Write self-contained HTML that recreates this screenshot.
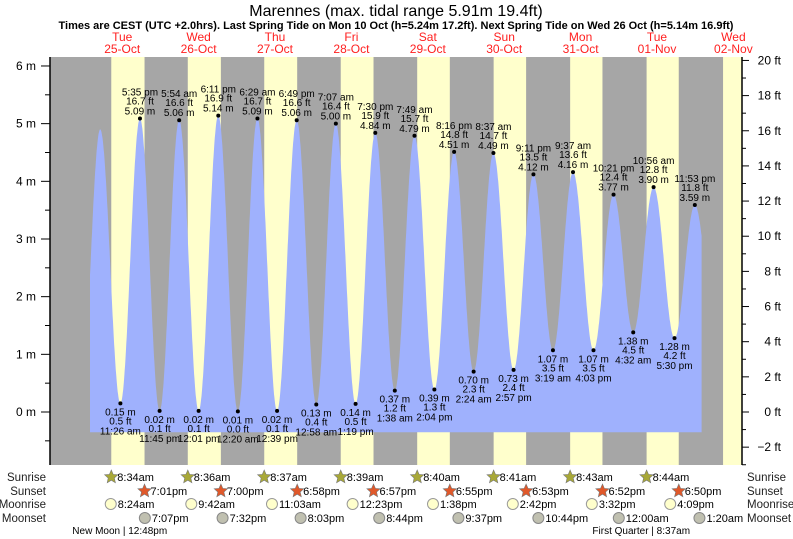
<!DOCTYPE html>
<html><head><meta charset="utf-8"><style>
body{margin:0;background:#fff;}
svg{display:block;font-family:"Liberation Sans",Arial,sans-serif;}
</style></head><body>
<svg id="chart" width="793" height="539" viewBox="0 0 793 539" xmlns="http://www.w3.org/2000/svg">
<text x="396" y="16" font-size="16" text-anchor="middle" fill="#000">Marennes (max. tidal range 5.91m 19.4ft)</text>
<text x="396" y="29" font-size="11" font-weight="bold" text-anchor="middle" fill="#000">Times are CEST (UTC +2.0hrs). Last Spring Tide on Mon 10 Oct (h=5.24m 17.2ft). Next Spring Tide on Wed 26 Oct (h=5.14m 16.9ft)</text>
<g id="plot"></g>
</svg>
<script>
// ---- data ----
const dayNames = ["Tue","Wed","Thu","Fri","Sat","Sun","Mon","Tue","Wed"];
const dayDates = ["25-Oct","26-Oct","27-Oct","28-Oct","29-Oct","30-Oct","31-Oct","01-Nov","02-Nov"];
const sunriseTimes = ["8:34am","8:36am","8:37am","8:39am","8:40am","8:41am","8:43am","8:44am","8:45am"];
const sunsetTimes = ["7:01pm","7:00pm","6:58pm","6:57pm","6:55pm","6:53pm","6:52pm","6:50pm","6:49pm"];
const moonriseDays = [0,1,2,3,4,5,6,7];
const moonriseTimes = ["8:24am","9:42am","11:03am","12:23pm","1:38pm","2:42pm","3:32pm","4:09pm"];
const moonsetDays = [0,1,2,3,4,5,7,8];
const moonsetTimes = ["7:07pm","7:32pm","8:03pm","8:44pm","9:37pm","10:44pm","12:00am","1:20am"];
const phaseDays = [0,7];
const phaseTimes = ["12:48pm","8:37am"];
const phaseNames = ["New Moon","First Quarter"];
const tideDays = [-1,0,0,0,0,1,1,1,2,2,2,2,3,3,3,3,4,4,4,4,5,5,5,5,6,6,6,6,7,7,7,7,8];
const tideTimes = ["11:00 pm","5:05 am","11:26 am","5:35 pm","11:45 pm","5:54 am","12:01 pm","6:11 pm","12:20 am","6:29 am","12:39 pm","6:49 pm","12:58 am","7:07 am","1:19 pm","7:30 pm","1:38 am","7:49 am","2:04 pm","8:16 pm","2:24 am","8:37 am","2:57 pm","9:11 pm","3:19 am","9:37 am","4:03 pm","10:21 pm","4:32 am","10:56 am","5:30 pm","11:53 pm","6:10 am"];
const tideM = [0.20,4.90,0.15,5.09,0.02,5.06,0.02,5.14,0.01,5.09,0.02,5.06,0.13,5.00,0.14,4.84,0.37,4.79,0.39,4.51,0.70,4.49,0.73,4.12,1.07,4.16,1.07,3.77,1.38,3.90,1.28,3.59,1.50];
const tideFt = [0.7,16.1,0.5,16.7,0.1,16.6,0.1,16.9,0.0,16.7,0.1,16.6,0.4,16.4,0.5,15.9,1.2,15.7,1.3,14.8,2.3,14.7,2.4,13.5,3.5,13.6,3.5,12.4,4.5,12.8,4.2,11.8,4.9];
const tideShown = [0,0,1,1,1,1,1,1,1,1,1,1,1,1,1,1,1,1,1,1,1,1,1,1,1,1,1,1,1,1,1,1,0];
const yTicksM = [0,1,2,3,4,5,6];
const yTicksFt = [-2,0,2,4,6,8,10,12,14,16,18,20];
const dataStartHour = 1.9, dataEndHour = 194;

// ---- scales ----
const PL=50, PR=742, PT=57, PB=465;
const X0=84, DAYW=76.4;
const xH = h => X0 + h*DAYW/24;
const yM = m => 412 - m*57.67;
const yFt = f => yM(f*0.3048);
function parseT(s){const m=s.replace(/\s/g,'').match(/(\d+):(\d+)(am|pm)/);let h=+m[1]%12;if(m[3]==='pm')h+=12;return h+(+m[2])/60;}
const NS="http://www.w3.org/2000/svg";
const svg=document.getElementById('plot');
function el(tag,attrs,parent){const e=document.createElementNS(NS,tag);for(const k in attrs)e.setAttribute(k,attrs[k]);(parent||svg).appendChild(e);return e;}
function txt(x,y,s,size,anchor,fill,parent){const t=el('text',{x:x,y:y,'font-size':size,'text-anchor':anchor||'middle',fill:fill||'#000'},parent);t.textContent=s;return t;}

let r=el('rect',{x:PL,y:PT,width:PR-PL,height:PB-PT,fill:'#a6a6a6'});


for(let d=0;d<dayNames.length;d++){
  const a=xH(d*24+parseT(sunriseTimes[d])), b=Math.min(PR,xH(d*24+parseT(sunsetTimes[d])));
  if(a>=PR) continue;
  const band=el('rect',{x:a,y:PT,width:b-a,height:PB-PT,fill:'#ffffcc'});
  
  
}
for(let d=0;d<dayNames.length;d++){
  const cx=xH(d*24+12);
  const t1=txt(cx,41,dayNames[d],12,'middle','#ff2020');
  
  
  const t2=txt(cx,53,dayDates[d],12,'middle','#ff2020');
  
  
}
const tH=tideDays.map((d,i)=>d*24+parseT(tideTimes[i]));
function level(h){for(let i=0;i<tH.length-1;i++){if(h>=tH[i]&&h<=tH[i+1]){const f=(h-tH[i])/(tH[i+1]-tH[i]);return tideM[i]+(tideM[i+1]-tideM[i])*(1-Math.cos(Math.PI*f))/2;}}return tideM[tideM.length-1];}
const base=-0.35;
let dpath='M'+xH(dataStartHour).toFixed(1)+','+yM(base).toFixed(1);
for(let h=dataStartHour;h<=dataEndHour;h+=0.1){dpath+=' L'+xH(h).toFixed(1)+','+yM(level(h)).toFixed(1);}
dpath+=' L'+xH(dataEndHour).toFixed(1)+','+yM(level(dataEndHour)).toFixed(1)+' L'+xH(dataEndHour).toFixed(1)+','+yM(base).toFixed(1)+' Z';
const area=el('path',{d:dpath,fill:'#9fb1fd'});


for(let i=0;i<tH.length;i++){
  if(!tideShown[i]) continue;
  const x=xH(tH[i]), y=yM(tideM[i]);
  const isHigh = tideM[i] > (tideM[i-1]||0);
  const g=el('g',{});
  
  
  el('circle',{cx:x,cy:y,r:2,fill:'#000'},g);
  const ft=tideFt[i].toFixed(1)+' ft', m=tideM[i].toFixed(2)+' m';
  if(isHigh){
    txt(x,y-23,tideTimes[i],10,'middle','#000',g);
    txt(x,y-14,ft,10,'middle','#000',g);
    txt(x,y-4,m,10,'middle','#000',g);
  } else {
    txt(x,y+12,m,10,'middle','#000',g);
    txt(x,y+21,ft,10,'middle','#000',g);
    txt(x,y+31,tideTimes[i],10,'middle','#000',g);
  }
}
const ax=el('line',{x1:PL,y1:PT,x2:PL,y2:PB,stroke:'#000','stroke-width':1.5});


const ax2=el('line',{x1:PR,y1:PT,x2:PR,y2:PB,stroke:'#000','stroke-width':1.5});


for(let m=-0.5;m<=6.5;m+=0.5){
  const y=yM(m); if(y<PT||y>PB) continue;
  const major=Number.isInteger(m);
  el('line',{x1:major?41:45,y1:y,x2:PL,y2:y,stroke:'#000'});
}
yTicksM.forEach(m=>{const t=txt(36,yM(m)+4,m+' m',12,'end');
  
  });
for(let f=-4;f<=21;f++){
  const y=yFt(f); if(y<PT||y>PB) continue;
  el('line',{x1:PR,y1:y,x2:PR+(f%2===0?7:4),y2:y,stroke:'#000'});
}
yTicksFt.forEach(f=>{const t=txt(781,yFt(f)+4,(f<0?'\u2212'+(-f):f)+' ft',12,'end');
  
  });
const rows=[['Sunrise',477],['Sunset',491],['Moonrise',504],['Moonset',518]];
rows.forEach(([n,y])=>{
  const a=txt(46,y+4,n,11.5,'end','#222');  
  const b=txt(747,y+4,n,11.5,'start','#222');  
});
function star(cx,cy,fill){let p='';for(let k=0;k<10;k++){const a=-Math.PI/2+k*Math.PI/5, rr=k%2?3.2:7;p+=(k?'L':'M')+(cx+rr*Math.cos(a)).toFixed(1)+','+(cy+rr*Math.sin(a)).toFixed(1);}return el('path',{d:p+'Z',fill:fill,stroke:'#777','stroke-width':0.6});}
for(let d=0;d<8;d++){
  const x1=xH(d*24+parseT(sunriseTimes[d]));
  const s1=star(x1,477,'#a8a838');  
  const t1=txt(x1+6,481,sunriseTimes[d],11,'start','#000');  
  const x2=xH(d*24+parseT(sunsetTimes[d]));
  const s2=star(x2,491,'#e0582a');  
  const t2=txt(x2+6,495,sunsetTimes[d],11,'start','#000');  
}
moonriseTimes.forEach((s,i)=>{const x=xH(moonriseDays[i]*24+parseT(s));
  const c=el('circle',{cx:x,cy:504,r:5.5,fill:'#ffffcc',stroke:'#999'});  
  const t=txt(x+7,508,s,11,'start','#000');  });
moonsetTimes.forEach((s,i)=>{const x=xH(moonsetDays[i]*24+parseT(s));
  const c=el('circle',{cx:x,cy:518,r:5.5,fill:'#c0c0b0',stroke:'#888'});  
  const t=txt(x+7,522,s,11,'start','#000');  });
phaseTimes.forEach((s,i)=>{const x=xH(phaseDays[i]*24+parseT(s));
  const t=txt(x-5,534,phaseNames[i]+' | '+s,10,'middle','#000');  });
</script>
</body></html>
